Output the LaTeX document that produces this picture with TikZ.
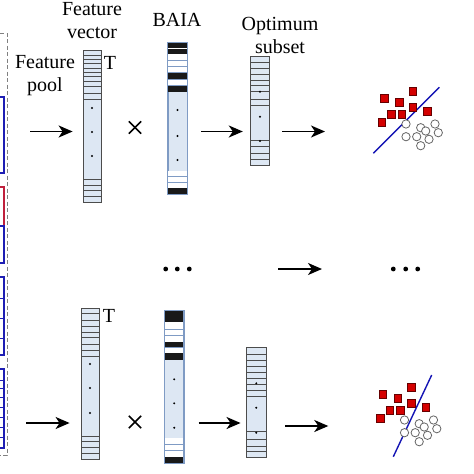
\documentclass[tikz,border=0pt]{standalone}
\usepackage{fontspec}
\setmainfont{Liberation Serif}
\usetikzlibrary{arrows.meta,positioning,calc}
\definecolor{vecblue}{HTML}{DDE7F3}
\definecolor{baiaedge}{HTML}{7F9BC4}
\definecolor{ptred}{HTML}{D40000}
\definecolor{sepblue}{HTML}{1414B4}
\definecolor{poolblue}{HTML}{1E1EB4}
\definecolor{poolred}{HTML}{C0203C}
\tikzset{
  lbl/.style={align=center, inner sep=0pt, font=\rmfamily\fontsize{20}{23}\selectfont},
  timesmark/.style={inner sep=0pt, minimum size=12pt},
  crossline/.style={line width=1.5pt},
  vecbox/.style={draw=black!70, fill=vecblue, minimum width=18pt, inner sep=0pt, line width=0.8pt},
  baiabox/.style={draw=baiaedge, fill=vecblue, minimum width=19pt, inner sep=0pt, line width=0.8pt},
  stripe/.style={draw=black!70, line width=0.7pt},
  baiastripe/.style={draw=baiaedge, line width=0.7pt},
  flow/.style={-{Stealth[length=14pt,width=12pt,inset=4pt]}, line width=1.8pt},
  sqpt/.style={draw=red!40!black, fill=ptred, minimum size=7.5pt, inner sep=0pt, line width=0.5pt},
  cpt/.style={circle, draw=black!60, fill=white, minimum size=8.3pt, inner sep=0pt, line width=0.8pt},
  sepline/.style={draw=sepblue, line width=1.4pt},
  poolline/.style={line width=1.2pt},
  pooldash/.style={draw=black!50, dashed, dash pattern=on 4pt off 2.5pt, line width=0.9pt}
}
% red squares and grey circles of one classifier
\newcommand{\scatterpts}[1]{%
  \foreach \px/\py [count=\i] in {384.3/98.3, 399/102.3, 412.7/91, 412.7/107.3, 391/114, 401.7/114.3, 381.7/122, 427.3/111}
    \node[sqpt] (#1sq\i) at (\px,\py) {};
  \foreach \px/\py [count=\i] in {406/124, 420.7/127.7, 425.7/131, 435/124, 438.3/132.7, 406/136.7, 416.7/136.7, 429/139.3, 420.7/145.7}
    \node[cpt] (#1c\i) at (\px,\py) {};
}
\begin{document}
\begin{tikzpicture}[x=1pt,y=-1pt]
\useasboundingbox (0,0) rectangle (474,474);

% feature pool (cut off on the left)
\draw[poolline, poolblue] (0,97) -| (4,173) -- (0,173);
\draw[poolline, poolred] (0,187) -| (4,226) -- (0,226);
\draw[poolline, poolblue] (0,226) -| (4,263) -- (0,263);
\draw[poolline, poolblue] (0,277) -| (4,355) -- (0,355);
\foreach \y in {298,318,338} \draw[poolblue, line width=0.7pt] (0,\y) -- (4,\y);
\draw[poolline, poolblue] (0,369) -| (4,448) -- (0,448);
\foreach \y in {380,388,397,407,417,427,437} \draw[poolblue, line width=0.7pt] (0,\y) -- (4,\y);
\draw[pooldash] (0,33) -- (7,33) -- (7,455) -- (0,455);

% labels
\node[lbl] (lblfv) at (92,21) {Feature\\vector};
\node[lbl] (lblpool) at (45,76) {Feature\\pool};
\node[lbl] (lblbaia) at (177,20) {BAIA};
\node[lbl] (lblopt) at (280,35) {Optimum\\subset};
\node[lbl] (t1) at (110,63) {T};
\node[lbl] (t2) at (109,316) {T};

% multiplication marks
\node[timesmark] (times1) at (135,127.5) {};
\node[timesmark] (times2) at (135,422) {};
\foreach \m in {times1,times2} {
  \draw[crossline] (\m.north west) -- (\m.south east);
  \draw[crossline] (\m.south west) -- (\m.north east);
}

% feature vectors
\node[vecbox, minimum height=152pt] (fv1) at (92,126) {};
\foreach \y in {55,59.3,63.3,68.3,72.3,76.7,81.7,86,93.3,99,179,185,190,196}
  \draw[stripe] (83,\y) -- (101,\y);
\foreach \y in {108,132,156} \fill (92,\y) circle (1.1pt);
\node[vecbox, minimum height=151pt] (fv2) at (90,383.4) {};
\foreach \y in {313,320,326,332,337,344,350,356,436,441,447,453}
  \draw[stripe] (81,\y) -- (99,\y);
\foreach \y in {364,388,413} \fill (90,\y) circle (1.1pt);

% BAIA vectors
\node[baiabox, minimum height=151pt] (baia1) at (177.5,118.5) {};
\fill[white] (168,48) rectangle (187,92);
\fill[white] (168,171) rectangle (187,188);
\foreach \y in {60,66,72.5,79.5,85.5,176,182}
  \draw[baiastripe] (168,\y) -- (187,\y);
\foreach \ya/\yb in {43/48.3, 49/54.3, 73/79, 86/91.5, 188/194}
  \fill[black!90] (168,\ya) rectangle (187,\yb);
\draw[baiaedge, line width=0.8pt] (baia1.north west) rectangle (baia1.south east);
\foreach \y in {110,136,160} \fill (177.5,\y) circle (1.1pt);

\node[baiabox, minimum height=152pt] (baia2) at (174.2,386.7) {};
\fill[white] (165,316) rectangle (183.3,360);
\fill[white] (165,438) rectangle (183.3,456.7);
\foreach \y in {329,335,347.5,444,450}
  \draw[baiastripe] (165,\y) -- (183.3,\y);
\foreach \ya/\yb in {310.7/316.5, 317.2/322.3, 341.7/346.7, 353.3/359.5, 456.7/462.7}
  \fill[black!90] (165,\ya) rectangle (183.3,\yb);
\draw[baiaedge, line width=0.8pt] (baia2.north west) rectangle (baia2.south east);
\foreach \y in {379.3,403.3,427.7} \fill (174.2,\y) circle (1.1pt);

% optimum subsets
\node[vecbox, minimum width=18.6pt, minimum height=109pt] (opt1) at (260,111.2) {};
\foreach \y in {62.3,68.3,74,80,85.7,91.7,99.3,105,140,146.7,153.3,159.3}
  \draw[stripe] (250.7,\y) -- (269.3,\y);
\foreach \y in {91.7,116.7,141} \fill (260,\y) circle (1.1pt);
\node[vecbox, minimum width=19.3pt, minimum height=110.4pt] (opt2) at (256.3,402.5) {};
\foreach \y in {354,360,366,372.7,378.3,384,390,396,431.7,439.3,446,451.7}
  \draw[stripe] (246.7,\y) -- (266,\y);
\foreach \y in {383.3,407.7,432.7} \fill (256.3,\y) circle (1.1pt);

% arrows
\coordinate (r1) at (0,131.5);
\coordinate (in1) at (30,131.5);
\coordinate (out1) at (325,131.5);
\draw[flow, shorten >=10pt] (in1) -- (in1 -| fv1.west);
\draw[flow, shorten <=14pt, shorten >=7.5pt] (baia1.east |- r1) -- (opt1.west |- r1);
\draw[flow, shorten <=12.4pt] (opt1.east |- out1) -- (out1);

\coordinate (midin) at (278,269);
\coordinate (midout) at (322,269);
\draw[flow] (midin) -- (midout);
\foreach \x in {165.7,177.3,189.3} \fill (\x,269) circle (2.4pt);
\foreach \x in {393.3,405.7,417.7} \fill (\x,269) circle (2.4pt);

\coordinate (r2) at (0,423);
\coordinate (in2) at (26,423);
\coordinate (out2) at (328.3,426);
\draw[flow, shorten >=11pt] (in2) -- (in2 -| fv2.west);
\draw[flow, shorten <=14.4pt, shorten >=5.7pt] (baia2.east |- r2) -- (opt2.west |- r2);
\draw[flow, shorten <=19pt] (opt2.east |- out2) -- (out2);

% classifiers
\draw[sepline] (373.3,153.3) -- (439.3,87.3);
\scatterpts{ka}
\draw[sepline] (393.3,456.7) -- (431.7,375);
\begin{scope}[shift={(-1.5,296)}]
\scatterpts{kb}
\end{scope}
\end{tikzpicture}
\end{document}
